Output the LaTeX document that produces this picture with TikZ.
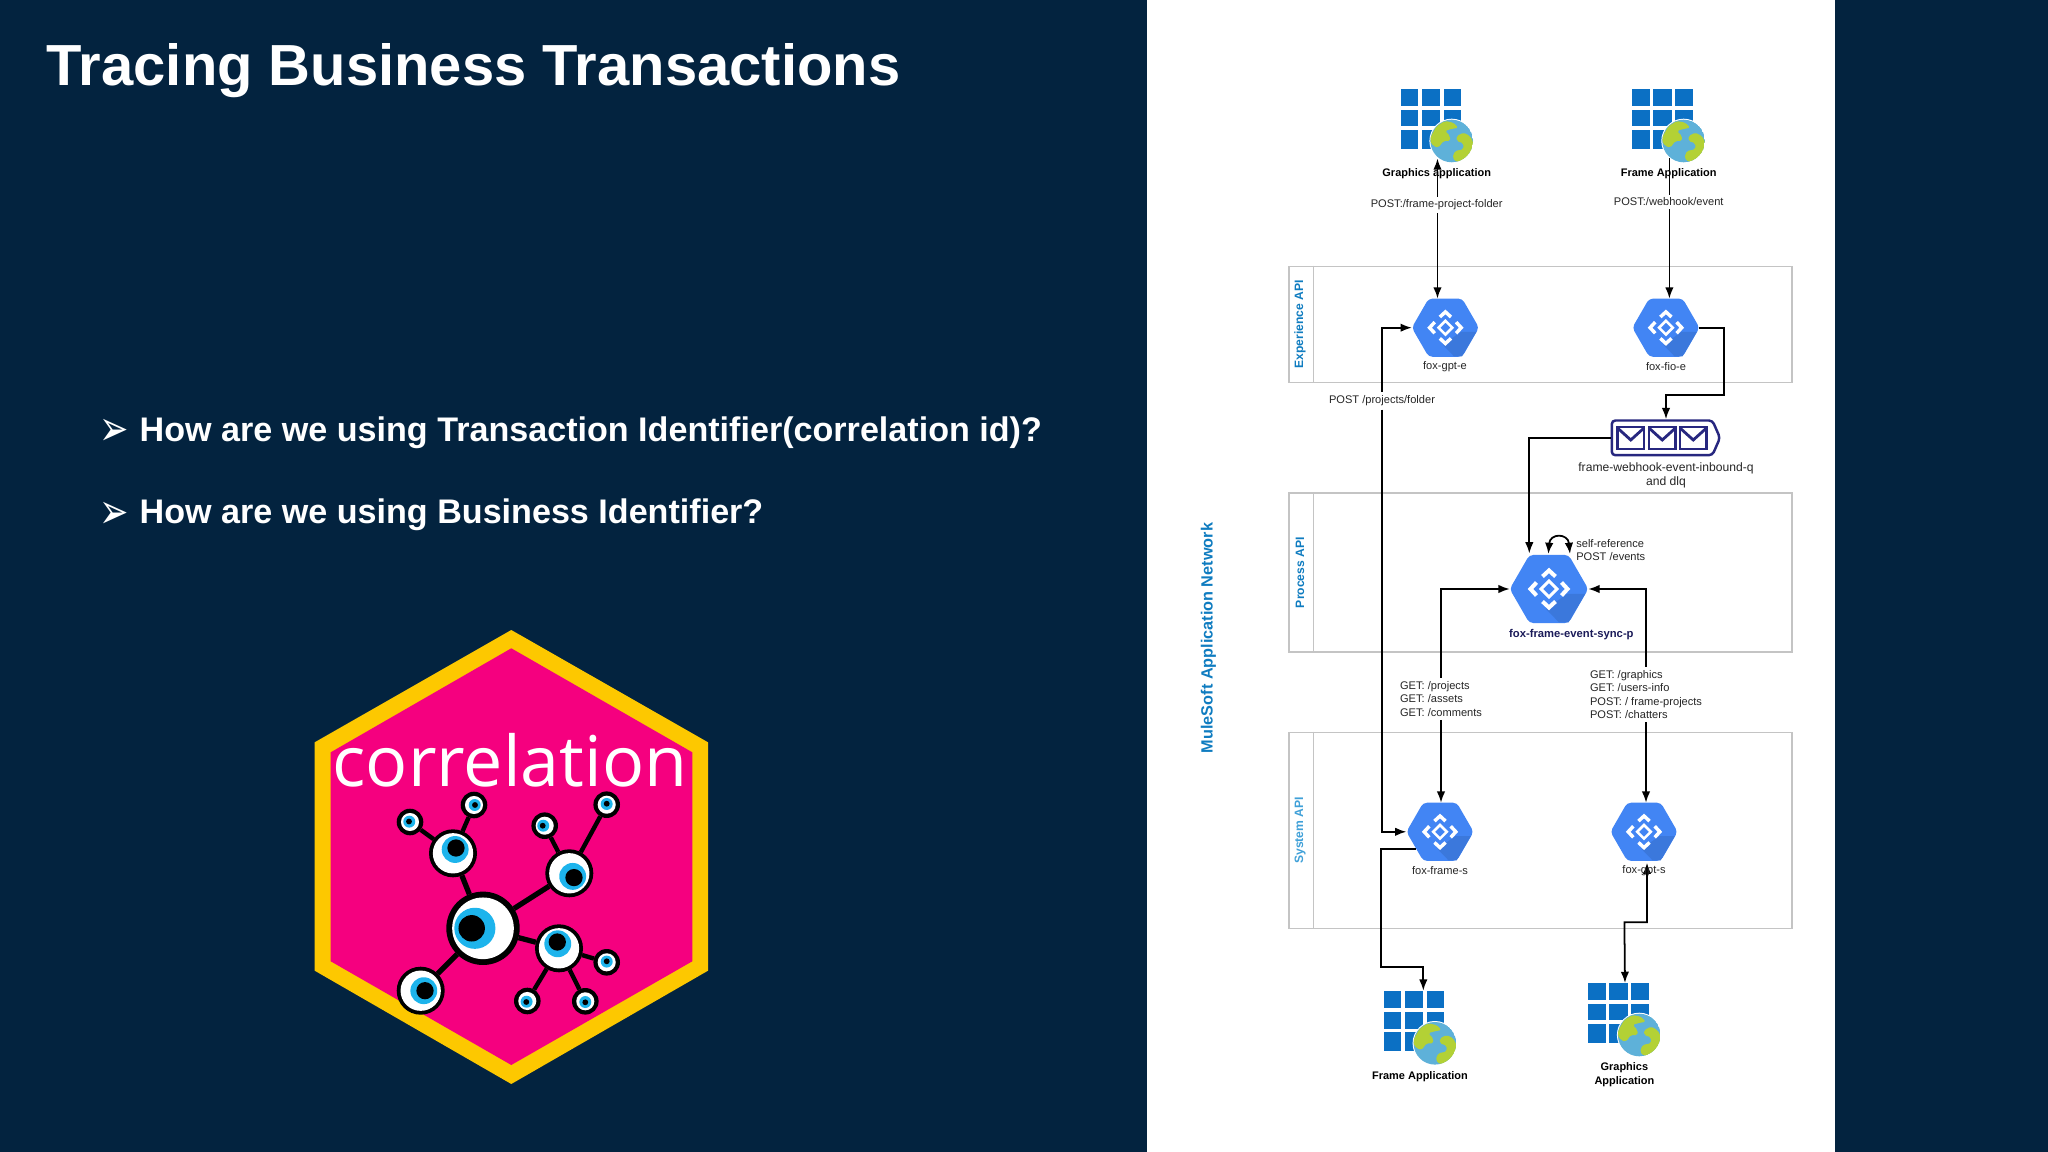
\documentclass[tikz,border=0pt]{standalone}
\usepackage{fontspec}
\setmainfont{Liberation Sans}
\newfontfamily\symfont{DejaVu Sans}
\newfontfamily\hexfont{Open Sans}
\usetikzlibrary{calc,shapes.geometric,arrows.meta}

\definecolor{pagebg}{HTML}{03233F}
\definecolor{tileblue}{HTML}{0B70C4}
\definecolor{seablue}{HTML}{5EB1D9}
\definecolor{landgreen}{HTML}{B3D135}
\definecolor{hexblue}{HTML}{4285F4}
\definecolor{hexshade}{HTML}{3B78DC}
\definecolor{quenavy}{HTML}{27277F}
\definecolor{lanegray}{HTML}{C4C4C4}
\definecolor{titleblue}{HTML}{0F7CC0}
\definecolor{lightblue}{HTML}{3FA0D8}
\definecolor{logopink}{HTML}{F5007F}
\definecolor{logogold}{HTML}{FDC800}
\definecolor{irisblue}{HTML}{1DB4EC}

\tikzset{
  link/.style={line width=0.5pt,black,>={Latex[length=3.2pt,width=2.4pt]}},
  lbl/.style={font=\fontsize{3.15}{3.8}\selectfont,text=black!85,inner sep=0pt,align=left},
  lblfill/.style={lbl,fill=white,inner xsep=0.5pt,inner ysep=0.8pt},
  lblbold/.style={lbl,font=\fontsize{3.12}{3.8}\selectfont\bfseries,text=black,align=center},
  hexnode/.style={regular polygon,regular polygon sides=6,fill=hexblue,draw=none,
    inner sep=0pt,outer sep=0pt,rounded corners=1.1pt},
  lane/.style={rectangle,draw=lanegray,line width=0.45pt,inner sep=0pt,minimum width=5.03cm},
  lanetxt/.style={rotate=90,font=\fontsize{3.45}{4}\selectfont\bfseries,inner sep=0pt},
  headtxt/.style={anchor=base west,text=white,inner sep=0pt,font=\fontsize{9.7}{11}\selectfont\bfseries},
  bultxt/.style={anchor=base west,text=white,inner sep=0pt,font=\fontsize{10}{12}\symfont},
  eyelink/.style={line width=1.5pt,black},
  appicon/.pic={
    \node[anchor=north west,minimum width=0.725cm,minimum height=0.68cm,inner sep=0pt] (-box) at (0,0) {};
    \foreach \cx/\cw in {0/17.5,21/18.5,43/17.5}
      \foreach \cy/\ch in {0/17,20.7/16.6,40.7/19.3}
        \fill[tileblue] (\cx,\cy) rectangle ++(\cw,\ch);
    \fill[white] (51.2,52) circle (22.3);
    \begin{scope}
      \clip (51.2,52) circle (21.3);
      \fill[seablue] (51.2,52) circle (21.3);
      \begin{scope}[shift={(51.2,52)}]
        \fill[landgreen,rounded corners=0.5pt] (-20.7,-5) -- (-15,-15) -- (-6.7,-20) -- (1.7,-18.3)
          -- (6.7,-13.3) -- (-1.7,-11.7) -- (-6.7,-10) -- (-1.7,-5) -- (-1.7,0) -- (-8.3,0)
          -- (-13.3,6.7) -- (-18.3,5) -- (-21.7,0) -- cycle;
        \fill[landgreen,rounded corners=0.5pt] (5,-5) -- (11.7,-8.3) -- (18.3,-5) -- (21.7,1.7)
          -- (19.3,11.7) -- (13.3,20) -- (5,21) -- (0.7,16.7) -- (3.3,10) -- (11.7,8.3)
          -- (11.7,2.3) -- (5,0) -- cycle;
      \end{scope}
    \end{scope}
  }
}

\begin{document}
\begin{tikzpicture}[x=0.01cm,y=-0.01cm]
  \path[use as bounding box,fill=pagebg] (0,0) rectangle (2048,1152);
  \fill[white] (1147,0) rectangle (1835,1152);

  % slide text
  \node[anchor=base west,text=white,inner sep=0pt,font=\fontsize{16.48}{19}\selectfont\bfseries] (title) at (46,86) {Tracing Business Transactions};
  \node[bultxt] (bul1) at (99,446) {\scalebox{1}[1.4]{➢}};
  \node[bultxt] (bul2) at (99,528) {\scalebox{1}[1.4]{➢}};
  \node[headtxt] (head1) at (139,442) {How are we using Transaction Identifier(correlation id)?};
  \node[headtxt] (head2) at (139,523.5) {How are we using Business Identifier?};

  % logo
  \fill[logogold] (511.3,630) -- (708,742.3) -- (708,970.7) -- (511.3,1084) -- (314.7,970.7) -- (314.7,742.3) -- cycle;
  \fill[logopink] (511.3,648.3) -- (692.3,752.3) -- (692.3,961.3) -- (511.3,1065) -- (330.7,961.3) -- (330.7,752.3) -- cycle;
  \node[anchor=base,text=white,inner sep=0pt,font=\fontsize{19.9}{22}\hexfont] (corr) at (510,786.7) {correlation};

  \foreach \nm/\ex/\ey/\er/\ox/\oy in {
      e1/483/928.3/36.7/-11.3/0, e2/453/853.3/24/3/-5.3, e3/569.3/873.3/24/4.7/4.3,
      e4/559/948.3/24/-1.7/-6.3, e5/420.7/990.7/24/4.3/0,
      s1/410/822/13.3/-1/-0.5, s2/474/805/13.3/1/0, s3/544.7/825.7/13.3/-2/0, s4/606.7/804.7/13.3/0/-1,
      s5/606.7/962.3/13.3/0/-1, s6/527.3/1001/13.3/-1/1, s7/585.3/1001.3/13.3/0/1} {
    \pgfmathsetmacro\wr{\er<15 ? 0.68 : 0.84}
    \pgfmathsetmacro\ir{\er<15 ? 0.45 : 0.56}
    \pgfmathsetmacro\pr{\er<15 ? 0.22 : 0.36}
    \node[circle,fill=black,inner sep=0pt,outer sep=0pt,minimum size=2*\er*0.01cm] (\nm) at (\ex,\ey) {};
    \fill[white] (\ex,\ey) circle [radius=\wr*\er];
    \fill[irisblue] (\ex+0.72*\ox,\ey+0.72*\oy) circle [radius=\ir*\er];
    \fill[black] (\ex+\ox,\ey+\oy) circle [radius=\pr*\er];
  }
  \foreach \a/\b in {e1/e2,e1/e3,e1/e4,e1/e5}
    \draw[eyelink] (\a) -- (\b);
  \foreach \a/\b in {e2/s1,e2/s2,e3/s3,e3/s4,e4/s5,e4/s6,e4/s7}
    \draw[eyelink,line width=1.25pt] (\a) -- (\b);

  % lanes
  \foreach \nm/\cy/\hh/\txt/\col in {
      exp/324.5/116.4/Experience API/titleblue,
      pro/572.6/159.3/Process API/titleblue,
      sys/830.3/196/System API/lightblue} {
    \node[lane,minimum height=\hh*0.01cm] (\nm) at (1540.5,\cy) {};
    \draw[lanegray,line width=0.45pt] ($(\nm.north west)+(25.4,0)$) -- ($(\nm.south west)+(25.4,0)$);
    \node[lanetxt,text=\col] (\nm txt) at ($(\nm.west)+(12,0)$) {\txt};
  }
  \node[rotate=90,inner sep=0pt,text=titleblue,font=\fontsize{4.62}{5}\selectfont\bfseries] (netname) at (1208.5,638) {MuleSoft Application Network};

  % api hexagons
  \foreach \nm/\hx/\hy/\hs in {
      hgpt/1445.4/327.7/0.855, hfio/1665.9/327.7/0.855, sync/1549/589/1,
      hfrm/1440/831.8/0.855, hgps/1644/831.8/0.855} {
    \node[hexnode,minimum size=\hs*0.785cm] (\nm) at (\hx,\hy) {};
    \begin{scope}[shift={(\hx,\hy)},scale=\hs]
      \fill[hexshade] (18,5) -- (36.1,5) -- (19.5,33.4) -- (10,33.4) -- (-3,20) -- cycle;
      \draw[white,line width=\hs*0.85pt] (0,-8) -- (8,0) -- (0,8) -- (-8,0) -- cycle;
      \foreach \a in {0,90,180,270}
        \draw[white,rotate=\a,line width=\hs*1.15pt] (-6.5,-12.5) -- (0,-18.5) -- (6.5,-12.5);
    \end{scope}
  }

  % queue
  \node[rectangle,inner sep=0pt,minimum width=1.09cm,minimum height=0.357cm] (queue) at (1666,437.8) {};
  \draw[quenavy,line width=0.7pt,rounded corners=1pt] (1611.8,420.5) -- (1712.4,420.5) -- (1720,437.8) -- (1712.4,455.2) -- (1611.8,455.2) -- cycle;
  \foreach \qx in {1617.5,1649,1680} {
    \draw[quenavy,line width=0.8pt] (\qx,427) rectangle ++(26.5,22);
    \draw[quenavy,line width=0.8pt] (\qx,428) -- ++(13.25,12) -- ++(13.25,-12);
  }

  % application icons
  \pic (appa) at (1400.5,89) {appicon};
  \pic (appb) at (1632.4,89) {appicon};
  \pic (appc) at (1383.7,991.3) {appicon};
  \pic (appd) at (1588,983) {appicon};

  % turning points of the connectors
  \coordinate (qturn) at (1723.8,395);
  \coordinate (syncin) at (1529.3,553.5);
  \coordinate (loopa) at (1548.3,554);
  \coordinate (loopb) at (1570,554);
  \coordinate (fsout) at (1415.7,849.3);
  \coordinate (fturn) at (1381,966.7);
  \coordinate (fin) at (1423.3,990.7);
  \coordinate (gout) at (1647,862.7);
  \coordinate (gturn) at (1624.4,922.3);

  \draw[link,<->] (appa-box.south) -- (appa-box.south |- hgpt.north);
  \draw[link,->] (appb-box.south) -- (appb-box.south |- hfio.north);

  % labels with a white ground
  \node[lblfill] (l1) at (1436.7,205) {POST:/frame-project-folder};
  \node[lblfill] (l2) at (1668.7,202) {POST:/webhook/event};
  \node[lblfill] (l3) at (1382,401) {POST /projects/folder};
  \node[lblfill] (l4) at (1441,699) {GET: /projects\\GET: /assets\\GET: /comments};
  \node[lblfill] (l5) at (1646,694.5) {GET: /graphics\\GET: /users-info\\POST: / frame-projects\\POST: /chatters};

  \draw[link,<-] (hgpt.west) -| (l3.north);
  \draw[link,->] (l3.south) |- (hfrm.west);
  \draw[link,->] (hfio.east) -| (qturn) -| (queue.north);
  \draw[link,->] (queue.west) -| (syncin);
  \draw[link,<->] (loopa) .. controls (1550,533) and (1568,533) .. (loopb);
  \draw[link,<-] (sync.west) -| (l4.north);
  \draw[link,->] (l4.south) -- (l4.south |- hfrm.north);
  \draw[link,<-] (sync.east) -| (l5.north);
  \draw[link,->] (l5.south) -- (l5.south |- hgps.north);
  \draw[link,->] (fsout) -| (fturn) -| (fin);
  \draw[link,<->] (gout) |- (gturn) -- (appd-box.north);

  % remaining labels
  \node[lblbold] (n1) at (1436.7,174) {Graphics application};
  \node[lblbold] (n2) at (1668.7,174) {Frame Application};
  \node[lblbold] (n3) at (1420,1077) {Frame Application};
  \node[lblbold] (n4) at (1624.4,1074.5) {Graphics\\Application};
  \node[lbl] (t1) at (1445,366.7) {fox-gpt-e};
  \node[lbl] (t2) at (1666,366.7) {fox-fio-e};
  \node[lbl] (t3) at (1440,870.5) {fox-frame-s};
  \node[lbl] (t4) at (1644,871) {fox-gpt-s};
  \node[lbl,font=\fontsize{3.2}{3.8}\selectfont\bfseries,text=quenavy!70!black] (t5) at (1571.4,634.7) {fox-frame-event-sync-p};
  \node[lbl,align=center,font=\fontsize{3.45}{4.15}\selectfont] (t6) at (1666,475.5) {frame-webhook-event-inbound-q\\and dlq};
  \node[lbl,anchor=west] (t7) at (1575.6,550) {self-reference\\POST /events};
\end{tikzpicture}
\end{document}
